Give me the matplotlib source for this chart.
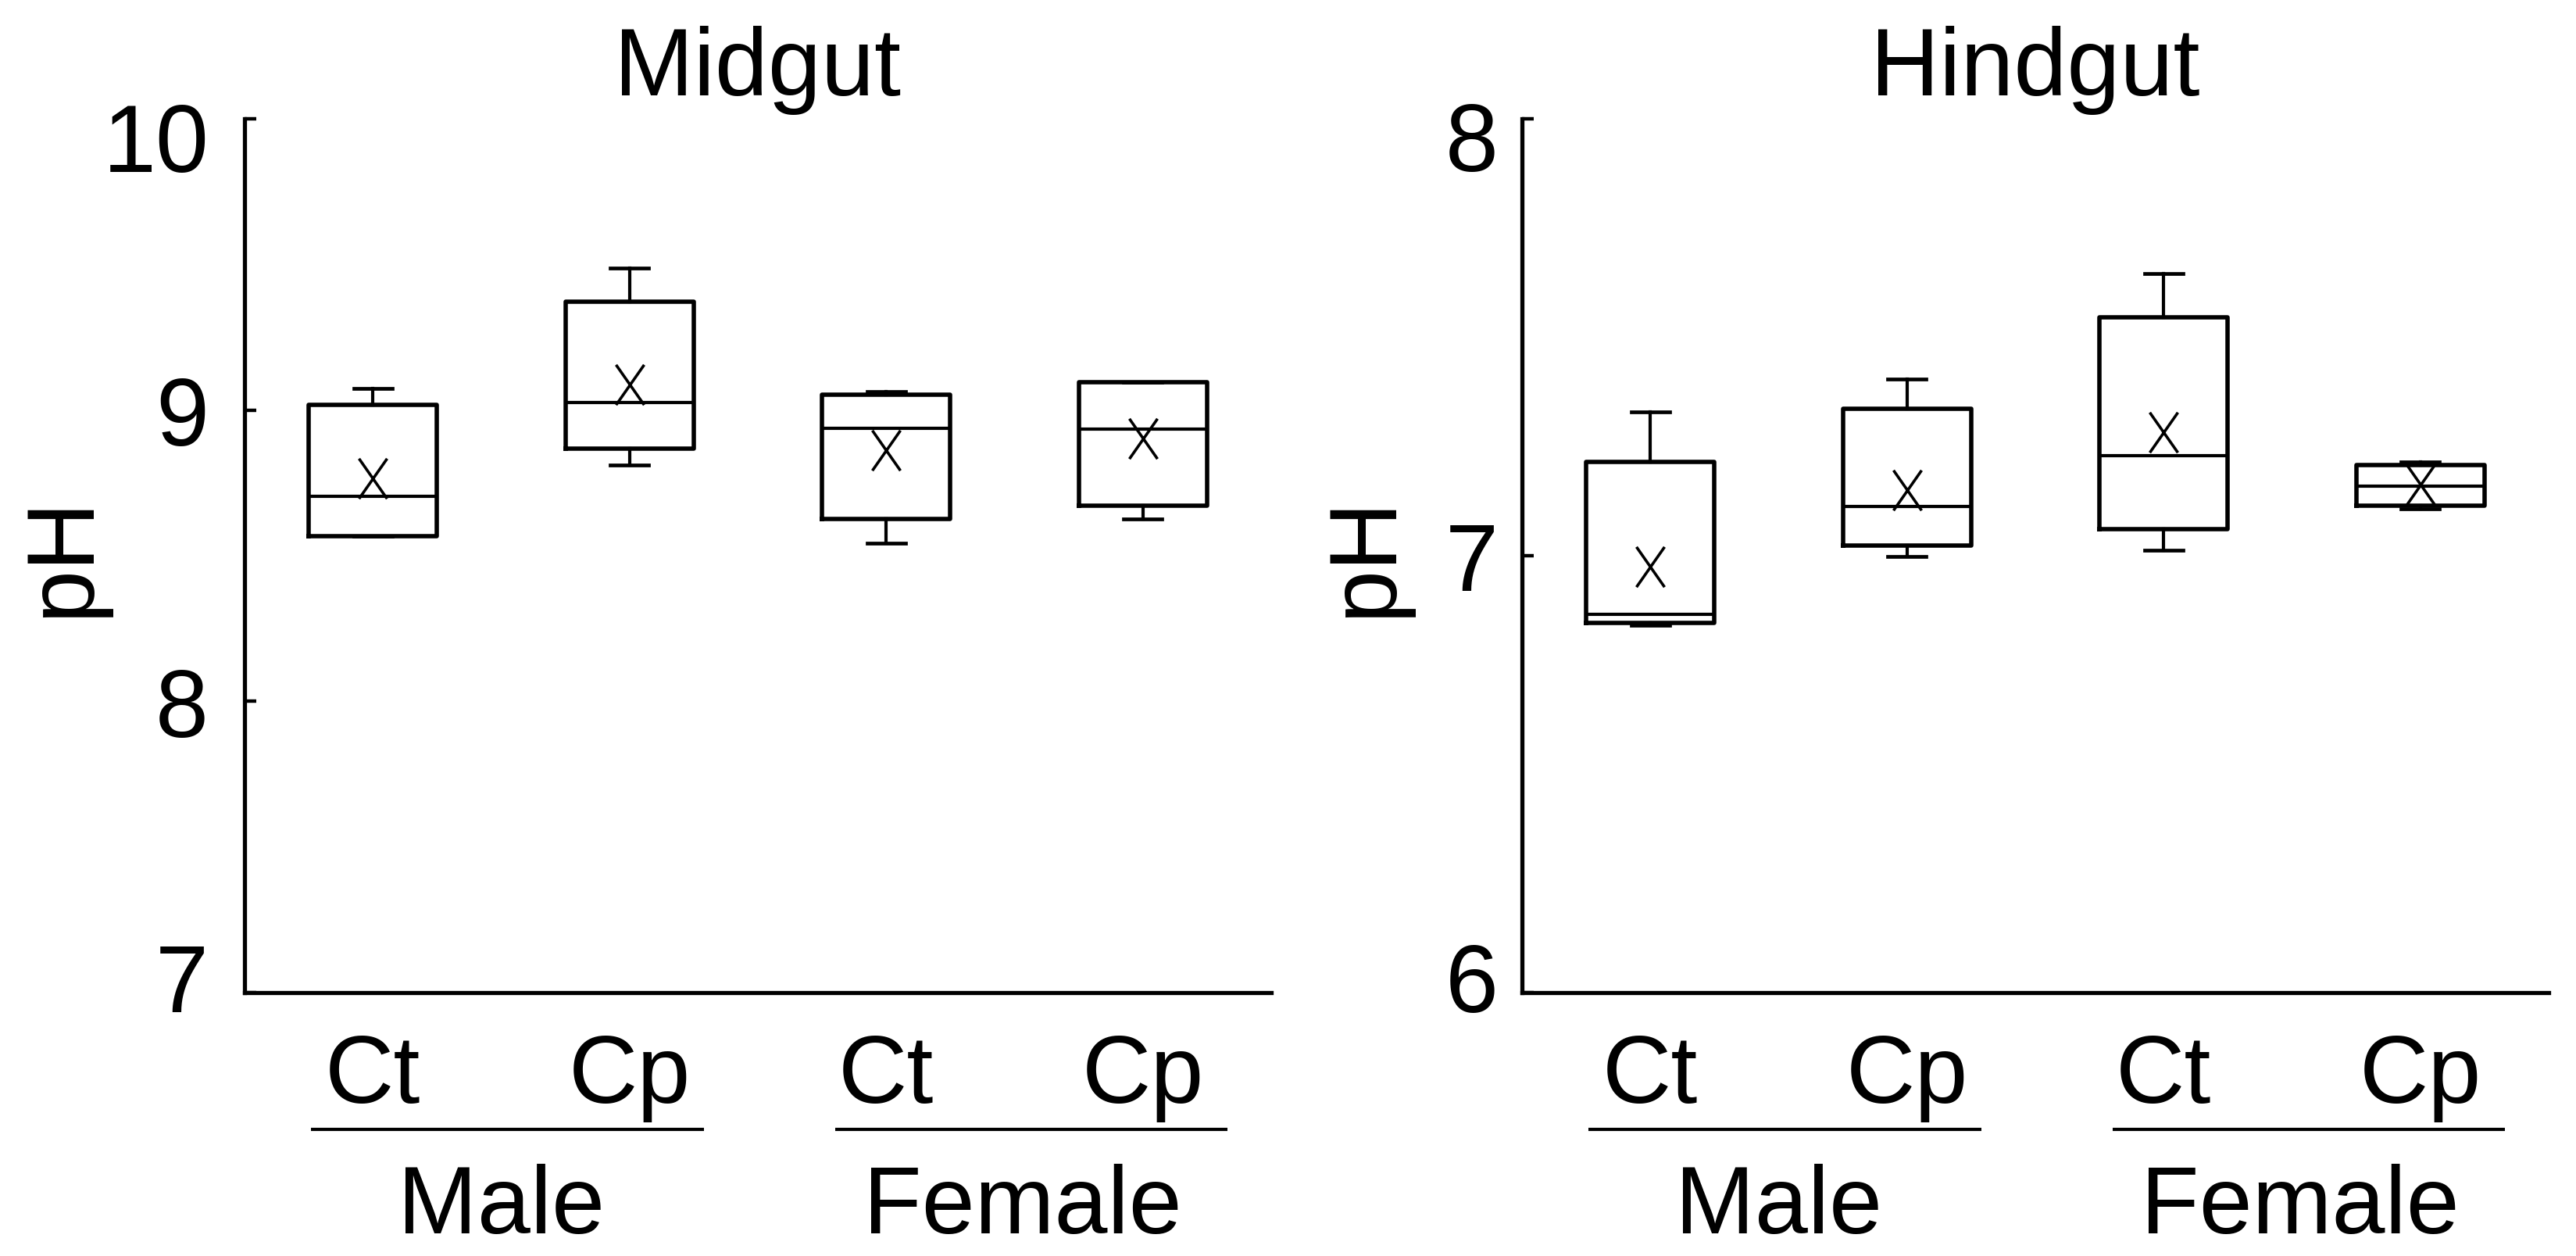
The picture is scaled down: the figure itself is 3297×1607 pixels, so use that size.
import numpy as np
import matplotlib
matplotlib.use("Agg")
import matplotlib.pyplot as plt
from matplotlib.path import Path
from matplotlib.transforms import ScaledTranslation, blended_transform_factory

plt.rcParams['font.family'] = ['Liberation Sans', 'DejaVu Sans']

# ---------------- data ----------------
categories = ['Ct', 'Cp', 'Ct', 'Cp']
groups = ['Male', 'Female']
titles = ['Midgut', 'Hindgut']

mid_whislo = [8.568, 8.810, 8.544, 8.626]
mid_q1 = [8.568, 8.868, 8.626, 8.671]
mid_med = [8.704, 9.026, 8.937, 8.935]
mid_q3 = [9.017, 9.373, 9.054, 9.096]
mid_whishi = [9.074, 9.488, 9.064, 9.096]
mid_mean = [8.766, 9.087, 8.863, 8.902]

hind_whislo = [6.840, 6.998, 7.013, 7.107]
hind_q1 = [6.846, 7.023, 7.060, 7.114]
hind_med = [6.866, 7.113, 7.229, 7.160]
hind_q3 = [7.215, 7.336, 7.545, 7.208]
hind_whishi = [7.329, 7.405, 7.645, 7.215]
hind_mean = [6.975, 7.151, 7.283, 7.162]

mid_yticks = [7, 8, 9, 10]
hind_yticks = [6, 7, 8]

# ---------------- layout ----------------
W, H = 3297, 1608
fig = plt.figure(figsize=(W / 100, H / 100), dpi=100)

ax_w, ax_h = 1314 / W, 1118 / H
ax_b = (H - 1271) / H
axes_left = [313 / W, 1948 / W]

positions = [1, 2, 3, 4]
group_spans = [(0.76, 2.29), (2.80, 4.33)]
group_text_x = [1.5, 3.53]

xmark = Path([(-0.35, -0.5), (0.35, 0.5), (-0.35, 0.5), (0.35, -0.5)],
             [Path.MOVETO, Path.LINETO, Path.MOVETO, Path.LINETO])

panels = [
    dict(title=titles[0], lo=mid_whislo, q1=mid_q1, med=mid_med, q3=mid_q3,
         hi=mid_whishi, mean=mid_mean, yticks=mid_yticks, ypad=33, ylab_x=-0.1332),
    dict(title=titles[1], lo=hind_whislo, q1=hind_q1, med=hind_med, q3=hind_q3,
         hi=hind_whishi, mean=hind_mean, yticks=hind_yticks, ypad=22, ylab_x=-0.1088),
]

FS = 88

for left, p in zip(axes_left, panels):
    ax = fig.add_axes([left, ax_b, ax_w, ax_h])
    stats = []
    for i in range(len(categories)):
        stats.append(dict(med=p['med'][i], q1=p['q1'][i], q3=p['q3'][i],
                          whislo=p['lo'][i], whishi=p['hi'][i],
                          fliers=[], label=categories[i]))
    ax.bxp(stats, positions=positions, widths=0.5, capwidths=0.15,
           showfliers=False, manage_ticks=False,
           boxprops=dict(color='black', linewidth=4.0),
           medianprops=dict(color='black', linewidth=3.0),
           whiskerprops=dict(color='black', linewidth=3.0),
           capprops=dict(color='black', linewidth=3.4))
    ax.plot(positions, p['mean'], linestyle='none', marker=xmark,
            markersize=37, markeredgewidth=2.6, markeredgecolor='black',
            markerfacecolor='none')

    ax.set_xlim(0.5, 4.5)
    ax.set_ylim(p['yticks'][0], p['yticks'][-1])
    ax.set_yticks(p['yticks'])
    ax.set_yticklabels([str(t) for t in p['yticks']])
    ax.set_xticks(positions)
    ax.set_xticklabels(categories)

    for s in ['top', 'right']:
        ax.spines[s].set_visible(False)
    for s in ['left', 'bottom']:
        ax.spines[s].set_linewidth(3.8)

    ax.tick_params(axis='y', direction='in', length=10.8, width=3.2,
                   pad=p['ypad'], labelsize=FS)
    ax.tick_params(axis='x', length=0, pad=37, labelsize=FS)

    ylabs = ax.get_yticklabels()
    ylabs[-1].set_transform(ylabs[-1].get_transform() +
                            ScaledTranslation(0, -0.22, fig.dpi_scale_trans))
    ylabs[0].set_transform(ylabs[0].get_transform() +
                           ScaledTranslation(0, 0.20, fig.dpi_scale_trans))

    ax.set_title(p['title'], fontsize=FS, pad=22)
    ax.set_ylabel('pH', fontsize=FS)
    ax.yaxis.set_label_coords(p['ylab_x'], 0.5)

    tr = blended_transform_factory(ax.transData, ax.transAxes)
    for (x0, x1), gx, g in zip(group_spans, group_text_x, groups):
        ax.plot([x0, x1], [-0.1565, -0.1565], color='black', linewidth=3.0,
                transform=tr, clip_on=False, solid_capstyle='butt')
        ax.text(gx, -0.2746, g, transform=tr, ha='center', va='baseline',
                fontsize=FS)

fig.savefig('out.png', dpi=100, facecolor='white')
